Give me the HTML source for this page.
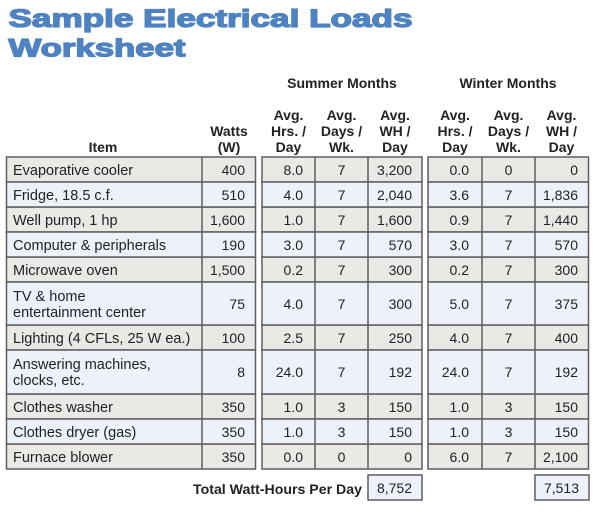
<!DOCTYPE html>
<html><head><meta charset="utf-8"><style>
html,body{margin:0;padding:0;background:#fff;}
svg{display:block;}
text{font-family:"Liberation Sans",Arial,sans-serif;fill:#222;}
.t{font-size:25px;font-weight:bold;fill:#4f82c0;stroke:#4f82c0;stroke-width:1.3px;}
.h{font-size:14px;font-weight:bold;}
.d{font-size:14px;}
.i{font-size:14.5px;}
.r{text-anchor:end;}
.c{text-anchor:middle;}
</style></head><body>
<svg width="601" height="513" viewBox="0 0 601 513" xmlns="http://www.w3.org/2000/svg">
<text class="t" x="8.5" y="27" textLength="404" lengthAdjust="spacingAndGlyphs">Sample Electrical Loads</text>
<text class="t" x="8.5" y="56.5" textLength="177" lengthAdjust="spacingAndGlyphs">Worksheet</text>

<text class="h c" x="342" y="88">Summer Months</text>
<text class="h c" x="508" y="88">Winter Months</text>

<text class="h c" x="103" y="152">Item</text>
<text class="h c" x="229" y="136">Watts</text>
<text class="h c" x="229" y="152">(W)</text>

<g>
<text class="h c" x="288.5" y="120">Avg.</text><text class="h c" x="288.5" y="136">Hrs. /</text><text class="h c" x="288.5" y="152">Day</text>
<text class="h c" x="341.5" y="120">Avg.</text><text class="h c" x="341.5" y="136">Days /</text><text class="h c" x="341.5" y="152">Wk.</text>
<text class="h c" x="395" y="120">Avg.</text><text class="h c" x="395" y="136">WH /</text><text class="h c" x="395" y="152">Day</text>
<text class="h c" x="455" y="120">Avg.</text><text class="h c" x="455" y="136">Hrs. /</text><text class="h c" x="455" y="152">Day</text>
<text class="h c" x="508.5" y="120">Avg.</text><text class="h c" x="508.5" y="136">Days /</text><text class="h c" x="508.5" y="152">Wk.</text>
<text class="h c" x="561.5" y="120">Avg.</text><text class="h c" x="561.5" y="136">WH /</text><text class="h c" x="561.5" y="152">Day</text>
</g>

<g stroke="#5e5e5e" stroke-width="1.5">
<g fill="#ebe9e6">
<rect x="6.5" y="157" width="249" height="25"/><rect x="262" y="157" width="160" height="25"/><rect x="428" y="157" width="160.5" height="25"/>
<rect x="6.5" y="207" width="249" height="25"/><rect x="262" y="207" width="160" height="25"/><rect x="428" y="207" width="160.5" height="25"/>
<rect x="6.5" y="257" width="249" height="25"/><rect x="262" y="257" width="160" height="25"/><rect x="428" y="257" width="160.5" height="25"/>
<rect x="6.5" y="325" width="249" height="25"/><rect x="262" y="325" width="160" height="25"/><rect x="428" y="325" width="160.5" height="25"/>
<rect x="6.5" y="394" width="249" height="25"/><rect x="262" y="394" width="160" height="25"/><rect x="428" y="394" width="160.5" height="25"/>
<rect x="6.5" y="444" width="249" height="25"/><rect x="262" y="444" width="160" height="25"/><rect x="428" y="444" width="160.5" height="25"/>
</g>
<g fill="#edf2fa">
<rect x="6.5" y="182" width="249" height="25"/><rect x="262" y="182" width="160" height="25"/><rect x="428" y="182" width="160.5" height="25"/>
<rect x="6.5" y="232" width="249" height="25"/><rect x="262" y="232" width="160" height="25"/><rect x="428" y="232" width="160.5" height="25"/>
<rect x="6.5" y="282" width="249" height="43"/><rect x="262" y="282" width="160" height="43"/><rect x="428" y="282" width="160.5" height="43"/>
<rect x="6.5" y="350" width="249" height="44"/><rect x="262" y="350" width="160" height="44"/><rect x="428" y="350" width="160.5" height="44"/>
<rect x="6.5" y="419" width="249" height="25"/><rect x="262" y="419" width="160" height="25"/><rect x="428" y="419" width="160.5" height="25"/>
<rect x="368" y="475" width="54" height="25"/><rect x="535" y="475" width="54" height="25"/>
</g>
<line x1="202" y1="157" x2="202" y2="469"/>
<line x1="315" y1="157" x2="315" y2="469"/>
<line x1="368" y1="157" x2="368" y2="469"/>
<line x1="482" y1="157" x2="482" y2="469"/>
<line x1="535" y1="157" x2="535" y2="469"/>
</g>

<g>
<text class="i" x="13" y="175">Evaporative cooler</text>
<text class="i" x="13" y="200">Fridge, 18.5 c.f.</text>
<text class="i" x="13" y="225">Well pump, 1 hp</text>
<text class="i" x="13" y="250">Computer &amp; peripherals</text>
<text class="i" x="13" y="275">Microwave oven</text>
<text class="i" x="13" y="301">TV &amp; home</text>
<text class="i" x="13" y="317">entertainment center</text>
<text class="i" x="13" y="343">Lighting (4 CFLs, 25 W ea.)</text>
<text class="i" x="13" y="369">Answering machines,</text>
<text class="i" x="13" y="385">clocks, etc.</text>
<text class="i" x="13" y="412">Clothes washer</text>
<text class="i" x="13" y="437">Clothes dryer (gas)</text>
<text class="i" x="13" y="462">Furnace blower</text>
</g>

<text class="d r" x="245" y="175">400</text>
<text class="d r" x="245" y="200">510</text>
<text class="d r" x="245" y="225">1,600</text>
<text class="d r" x="245" y="250">190</text>
<text class="d r" x="245" y="275">1,500</text>
<text class="d r" x="245" y="309">75</text>
<text class="d r" x="245" y="343">100</text>
<text class="d r" x="245" y="377">8</text>
<text class="d r" x="245" y="412">350</text>
<text class="d r" x="245" y="437">350</text>
<text class="d r" x="245" y="462">350</text>

<text class="d r" x="303" y="175">8.0</text>
<text class="d r" x="303" y="200">4.0</text>
<text class="d r" x="303" y="225">1.0</text>
<text class="d r" x="303" y="250">3.0</text>
<text class="d r" x="303" y="275">0.2</text>
<text class="d r" x="303" y="309">4.0</text>
<text class="d r" x="303" y="343">2.5</text>
<text class="d r" x="303" y="377">24.0</text>
<text class="d r" x="303" y="412">1.0</text>
<text class="d r" x="303" y="437">1.0</text>
<text class="d r" x="303" y="462">0.0</text>

<text class="d c" x="341.5" y="175">7</text>
<text class="d c" x="341.5" y="200">7</text>
<text class="d c" x="341.5" y="225">7</text>
<text class="d c" x="341.5" y="250">7</text>
<text class="d c" x="341.5" y="275">7</text>
<text class="d c" x="341.5" y="309">7</text>
<text class="d c" x="341.5" y="343">7</text>
<text class="d c" x="341.5" y="377">7</text>
<text class="d c" x="341.5" y="412">3</text>
<text class="d c" x="341.5" y="437">3</text>
<text class="d c" x="341.5" y="462">0</text>

<text class="d r" x="412" y="175">3,200</text>
<text class="d r" x="412" y="200">2,040</text>
<text class="d r" x="412" y="225">1,600</text>
<text class="d r" x="412" y="250">570</text>
<text class="d r" x="412" y="275">300</text>
<text class="d r" x="412" y="309">300</text>
<text class="d r" x="412" y="343">250</text>
<text class="d r" x="412" y="377">192</text>
<text class="d r" x="412" y="412">150</text>
<text class="d r" x="412" y="437">150</text>
<text class="d r" x="412" y="462">0</text>

<text class="d r" x="469" y="175">0.0</text>
<text class="d r" x="469" y="200">3.6</text>
<text class="d r" x="469" y="225">0.9</text>
<text class="d r" x="469" y="250">3.0</text>
<text class="d r" x="469" y="275">0.2</text>
<text class="d r" x="469" y="309">5.0</text>
<text class="d r" x="469" y="343">4.0</text>
<text class="d r" x="469" y="377">24.0</text>
<text class="d r" x="469" y="412">1.0</text>
<text class="d r" x="469" y="437">1.0</text>
<text class="d r" x="469" y="462">6.0</text>

<text class="d c" x="508.5" y="175">0</text>
<text class="d c" x="508.5" y="200">7</text>
<text class="d c" x="508.5" y="225">7</text>
<text class="d c" x="508.5" y="250">7</text>
<text class="d c" x="508.5" y="275">7</text>
<text class="d c" x="508.5" y="309">7</text>
<text class="d c" x="508.5" y="343">7</text>
<text class="d c" x="508.5" y="377">7</text>
<text class="d c" x="508.5" y="412">3</text>
<text class="d c" x="508.5" y="437">3</text>
<text class="d c" x="508.5" y="462">7</text>

<text class="d r" x="578" y="175">0</text>
<text class="d r" x="578" y="200">1,836</text>
<text class="d r" x="578" y="225">1,440</text>
<text class="d r" x="578" y="250">570</text>
<text class="d r" x="578" y="275">300</text>
<text class="d r" x="578" y="309">375</text>
<text class="d r" x="578" y="343">400</text>
<text class="d r" x="578" y="377">192</text>
<text class="d r" x="578" y="412">150</text>
<text class="d r" x="578" y="437">150</text>
<text class="d r" x="578" y="462">2,100</text>

<text class="h" x="193" y="494" textLength="169" lengthAdjust="spacingAndGlyphs">Total Watt-Hours Per Day</text>
<text class="d r" x="412" y="493">8,752</text>
<text class="d r" x="579" y="493">7,513</text>
</svg>
</body></html>
